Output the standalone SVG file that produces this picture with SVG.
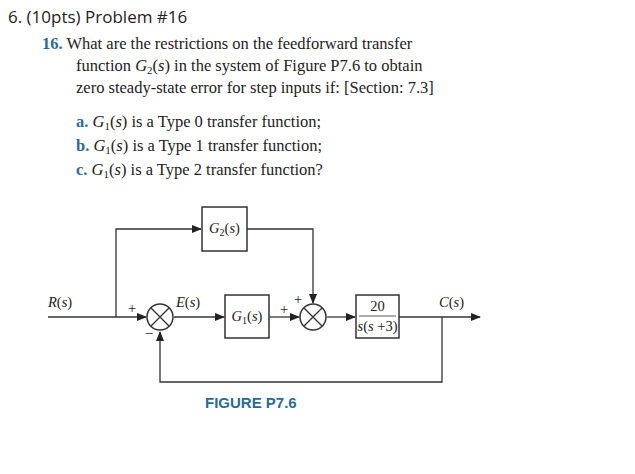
<svg xmlns="http://www.w3.org/2000/svg" width="635" height="474" viewBox="0 0 635 474">
<style>
.h{font-family:"Open Sans","Liberation Sans",sans-serif;font-size:17px;fill:#222}
.t{font-family:"Liberation Serif",serif;font-size:16.5px;fill:#222}
.b{font-weight:bold;fill:#2a6a9a}
.d{font-family:"Liberation Serif",serif;font-size:14.5px;fill:#222}
.ln{stroke:#333;stroke-width:1.3;fill:none}
.bx{stroke:#333;stroke-width:1.5;fill:#fff}
</style>
<defs><marker id="a" markerWidth="10" markerHeight="8" refX="9" refY="4" orient="auto" markerUnits="userSpaceOnUse"><path d="M0,0L10,4L0,8z" fill="#222"/></marker></defs>
<rect width="635" height="474" fill="#fff"/>
<text class="h" x="8" y="23">6.  (10pts) Problem #16</text>
<text class="t" x="42" y="49"><tspan font-weight="bold" fill="#2a6a9a">16.</tspan> What are the restrictions on the feedforward transfer</text>
<text class="t" x="76" y="71">function <tspan font-style="italic">G</tspan><tspan font-size="11" dy="3">2</tspan><tspan dy="-3">(<tspan font-style="italic">s</tspan>) in the system of Figure P7.6 to obtain</tspan></text>
<text class="t" x="76" y="93">zero steady-state error for step inputs if: [Section: 7.3]</text>
<text class="t" x="76" y="127"><tspan class="b">a.</tspan> <tspan font-style="italic">G</tspan><tspan font-size="11" dy="3">1</tspan><tspan dy="-3">(<tspan font-style="italic">s</tspan>) is a Type 0 transfer function;</tspan></text>
<text class="t" x="76" y="151"><tspan class="b">b.</tspan> <tspan font-style="italic">G</tspan><tspan font-size="11" dy="3">1</tspan><tspan dy="-3">(<tspan font-style="italic">s</tspan>) is a Type 1 transfer function;</tspan></text>
<text class="t" x="76" y="175"><tspan class="b">c.</tspan> <tspan font-style="italic">G</tspan><tspan font-size="11" dy="3">1</tspan><tspan dy="-3">(<tspan font-style="italic">s</tspan>) is a Type 2 transfer function?</tspan></text>
<g id="connectors">
<line class="ln" x1="48" y1="317" x2="146" y2="317" marker-end="url(#a)"/>
<polyline class="ln" points="116,317 116,229 201,229" marker-end="url(#a)"/>
<polyline class="ln" points="247,229 313,229 313,303" marker-end="url(#a)"/>
<line class="ln" x1="174" y1="317" x2="224" y2="317" marker-end="url(#a)"/>
<line class="ln" x1="269" y1="317" x2="299" y2="317" marker-end="url(#a)"/>
<line class="ln" x1="327" y1="317" x2="355" y2="317" marker-end="url(#a)"/>
<line class="ln" x1="399" y1="317" x2="480" y2="317" marker-end="url(#a)"/>
<polyline class="ln" points="442,317 442,382 160,382 160,332" marker-end="url(#a)"/>
</g>
<g id="g2"><rect class="bx" x="202" y="207" width="45" height="44"/><text class="d" x="224.5" y="233" text-anchor="middle"><tspan font-style="italic">G</tspan><tspan font-size="10" dy="3">2</tspan><tspan dy="-3">(<tspan font-style="italic">s</tspan>)</tspan></text></g>
<g id="g1"><rect class="bx" x="225" y="295" width="44" height="43"/><text class="d" x="247" y="321" text-anchor="middle"><tspan font-style="italic">G</tspan><tspan font-size="10" dy="3">1</tspan><tspan dy="-3">(<tspan font-style="italic">s</tspan>)</tspan></text></g>
<g id="plant"><rect class="bx" x="356" y="295" width="43" height="43"/><line x1="359" y1="316" x2="396" y2="316" stroke="#333" stroke-width="0.8"/><text class="d" x="377.5" y="311" text-anchor="middle" font-size="12">20</text><text class="d" x="377.5" y="331" text-anchor="middle" font-size="12"><tspan font-style="italic">s</tspan>(<tspan font-style="italic">s</tspan> +3)</text></g>
<g id="sum1"><circle class="bx" cx="160" cy="317" r="13"/><path class="ln" d="M151,308L169,326M169,308L151,326"/><text class="d" x="128" y="313">+</text><text class="d" x="145" y="338">−</text></g>
<g id="sum2"><circle class="bx" cx="313" cy="317" r="13"/><path class="ln" d="M304,308L322,326M322,308L304,326"/><text class="d" x="280" y="314">+</text><text class="d" x="294" y="304">+</text></g>
<text class="d" x="48" y="307"><tspan font-style="italic">R</tspan>(<tspan font-style="italic">s</tspan>)</text>
<text class="d" x="176" y="307"><tspan font-style="italic">E</tspan>(<tspan font-style="italic">s</tspan>)</text>
<text class="d" x="439" y="307"><tspan font-style="italic">C</tspan>(<tspan font-style="italic">s</tspan>)</text>
<text x="205" y="408" font-family="Liberation Sans,sans-serif" font-weight="bold" font-size="15" fill="#2a6a9a">FIGURE P7.6</text>
</svg>
